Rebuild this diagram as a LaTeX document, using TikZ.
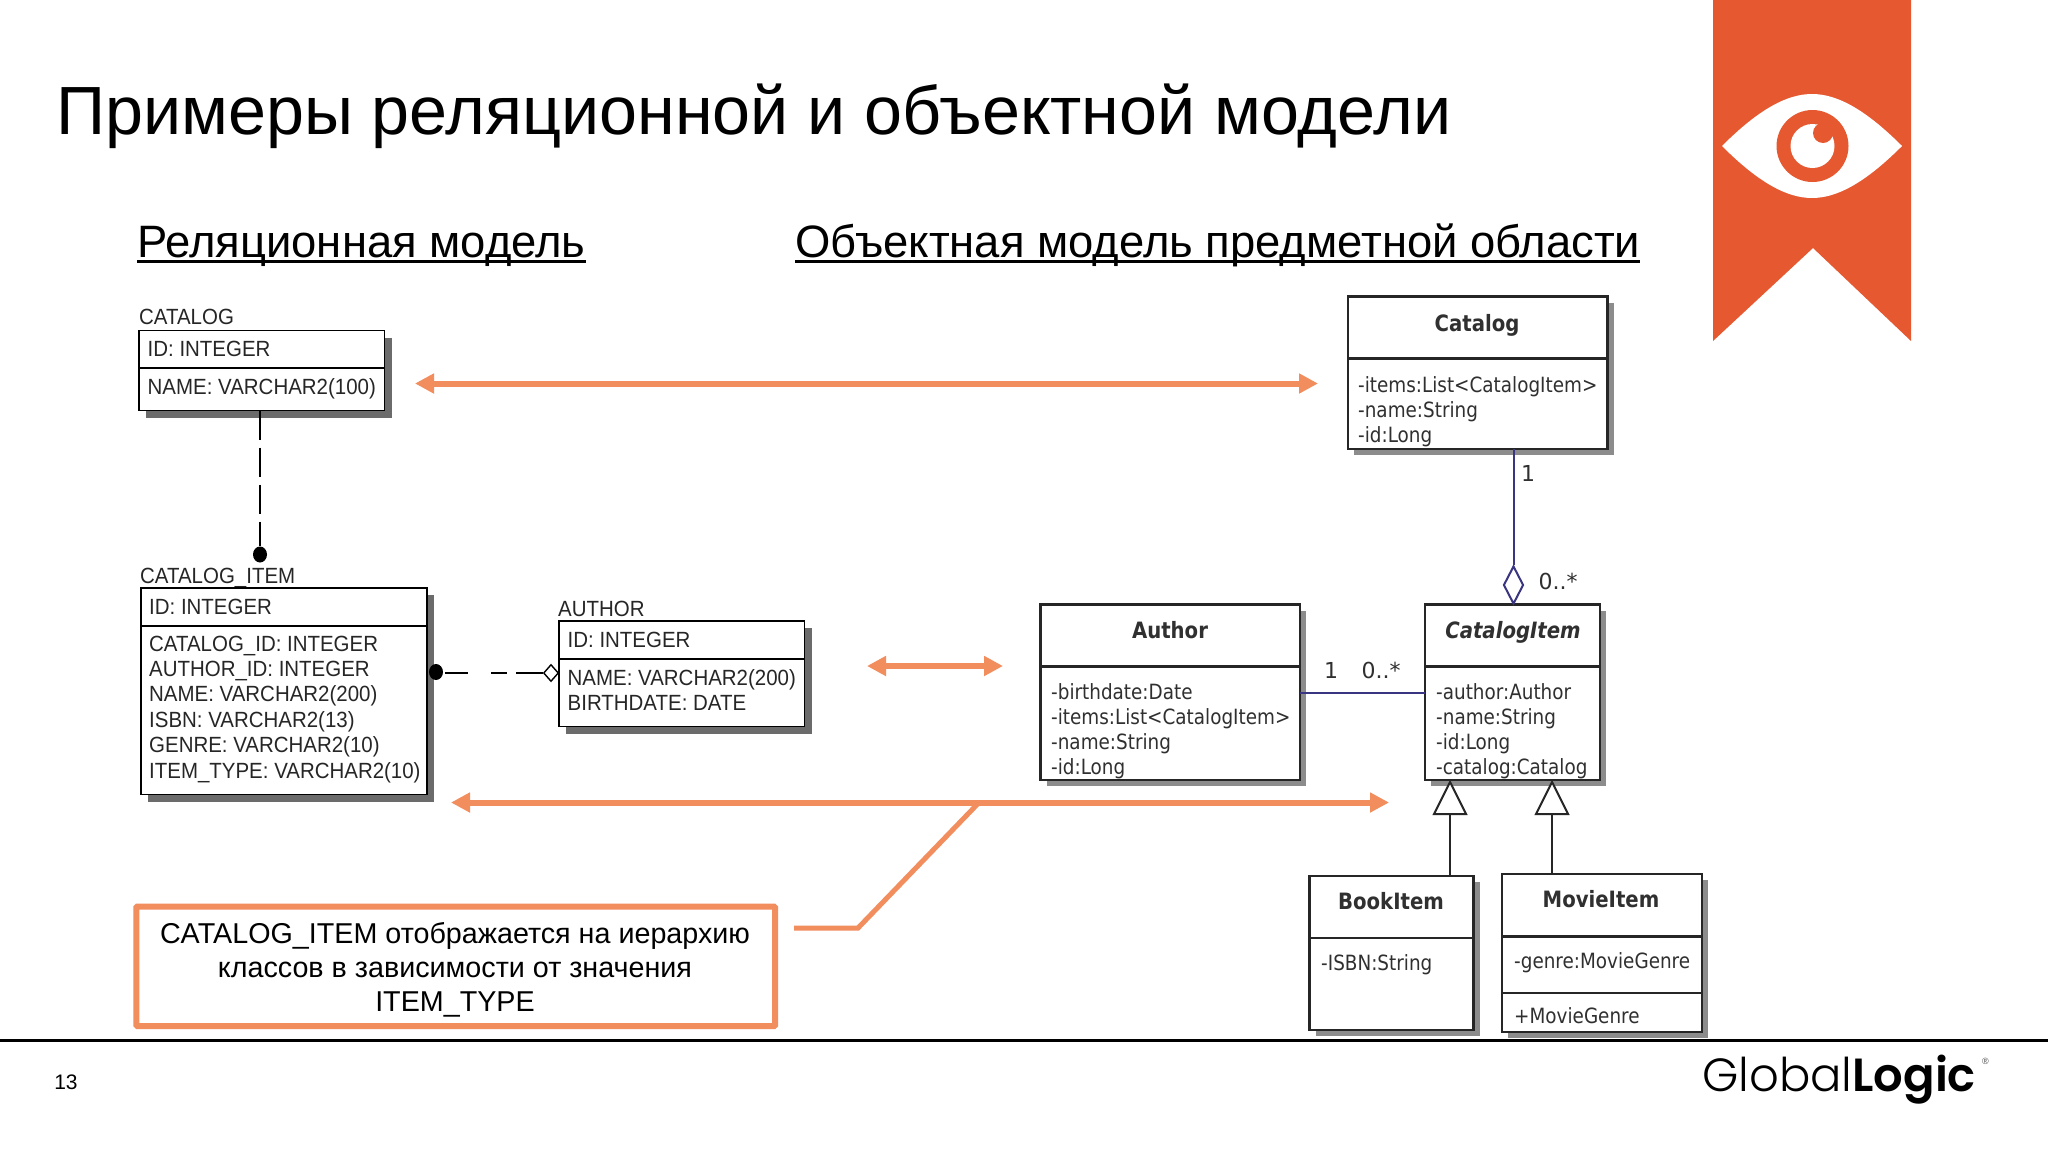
\documentclass[tikz,border=0pt]{standalone}
\usepackage{fontspec}
\setmainfont{Liberation Sans}
\newfontfamily\erfont[FakeStretch=0.93]{Liberation Sans}
\newfontfamily\umlfont[FakeStretch=0.875]{DejaVu Sans}
\newfontfamily\umlplain{DejaVu Sans}
\newfontfamily\logofont[UprightFont=* Light,BoldFont=* SemiBold]{Poppins}
\usetikzlibrary{arrows.meta,shadows,shapes.geometric,calc}
\definecolor{accent}{HTML}{F28D5E}
\definecolor{ribbon}{HTML}{E65830}
\definecolor{umlline}{HTML}{3A3580}
\definecolor{umltext}{HTML}{303030}
\tikzset{
  erbox/.style={draw=black,line width=1.8pt,fill=white,anchor=north west,inner sep=0pt,outer sep=0pt,
     drop shadow={shadow xshift=7pt,shadow yshift=-7pt,opacity=1,fill=black!58}},
  umlbox/.style={draw=black!85,line width=2.4pt,fill=white,anchor=north west,inner sep=0pt,outer sep=0pt,
     drop shadow={shadow xshift=6pt,shadow yshift=-6pt,opacity=1,fill=black!45}},
  ertext/.style={font=\erfont\fontsize{22}{25}\selectfont,text=black!85,anchor=base west,inner sep=0pt},
  umlattr/.style={font=\umlfont\fontsize{21}{25}\selectfont,text=umltext,anchor=base west,inner sep=0pt},
  umltitle/.style={font=\umlfont\bfseries\fontsize{22.5}{25}\selectfont,text=umltext,anchor=base,inner sep=0pt},
  umllabel/.style={font=\umlplain\fontsize{22}{25}\selectfont,text=umltext,anchor=base,inner sep=0pt},
  erdiv/.style={draw=black,line width=1.8pt},
  umldiv/.style={draw=black!85,line width=2.4pt},
  erlink/.style={draw=black,line width=1.4pt},
  erdot/.style={ellipse,fill=black,inner sep=0pt,minimum width=14pt,minimum height=16pt},
  assoc/.style={draw=umlline,line width=2pt},
  inherit/.style={draw=black!85,line width=2pt},
  bigarrow/.style={draw=accent,line width=6pt,{Triangle[length=19pt,width=19pt,fill=accent]}-{Triangle[length=19pt,width=19pt,fill=accent]}},
  leader/.style={draw=accent,line width=5pt},
  heading/.style={font=\fontsize{45.4}{50}\selectfont,anchor=base west,inner sep=0pt},
  notetext/.style={anchor=base,inner sep=0pt,font=\fontsize{28.7}{34}\selectfont},
  gentri/.style={isosceles triangle,isosceles triangle apex angle=54,isosceles triangle stretches,shape border rotate=90,draw=black!85,fill=white,line width=2pt,inner sep=0pt,outer sep=0pt,minimum width=32pt,minimum height=32pt,anchor=apex},
}
\begin{document}
\begin{tikzpicture}[x=1pt,y=-1pt]
\useasboundingbox (0,0) rectangle (2048,1152);
\fill[white] (0,0) rectangle (2048,1152);

% ribbon
\fill[ribbon] (1713,0) -- (1911,0) -- (1911,341) -- (1813,248) -- (1713,341) -- cycle;
\fill[white] (1722,146) .. controls (1760,108) and (1788,94) .. (1812,94) .. controls (1836,94) and (1864,108) .. (1902,146) .. controls (1864,184) and (1836,198) .. (1812,198) .. controls (1788,198) and (1760,184) .. (1722,146) -- cycle;
\fill[ribbon] (1812.5,146) circle (36);
\fill[white] (1812.5,146) circle (22);
\fill[ribbon] (1823,133) circle (10);

% headings
\node[anchor=base west,inner sep=0pt,font=\fontsize{68.2}{72}\selectfont] (title) at (56,134.5) {Примеры реляционной и объектной модели};
\node[heading] (hrel) at (137,257) {Реляционная модель};
\node[heading] (hobj) at (795,257) {Объектная модель предметной области};
\draw[line width=3pt] ($(hrel.base west)+(0,4)$) -- ($(hrel.base east)+(0,4)$);
\draw[line width=3pt] ($(hobj.base west)+(0,4)$) -- ($(hobj.base east)+(0,4)$);

% ER boxes
\node[ertext] (lcat) at (139,324) {CATALOG};
\node[erbox,minimum width=245.5pt,minimum height=80pt] (cat) at (139,330.5) {};
\draw[erdiv] (cat.west |- 0,368) -- (cat.east |- 0,368);
\node[ertext] (cat1) at (147.5,356) {ID: INTEGER};
\node[ertext] (cat2) at (147.5,394) {NAME: VARCHAR2(100)};

\node[ertext] (litem) at (140,583) {CATALOG\_ITEM};
\node[erbox,minimum width=286pt,minimum height=206.5pt] (item) at (140.7,588) {};
\draw[erdiv] (item.west |- 0,626) -- (item.east |- 0,626);
\node[ertext] (item0) at (149,614) {ID: INTEGER};
\node[ertext] (item1) at (149,651) {CATALOG\_ID: INTEGER};
\node[ertext] (item2) at (149,676) {AUTHOR\_ID: INTEGER};
\node[ertext] (item3) at (149,701) {NAME: VARCHAR2(200)};
\node[ertext] (item4) at (149,727) {ISBN: VARCHAR2(13)};
\node[ertext] (item5) at (149,752) {GENRE: VARCHAR2(10)};
\node[ertext] (item6) at (149,778) {ITEM\_TYPE: VARCHAR2(10)};

\node[ertext] (lauth) at (558,616) {AUTHOR};
\node[erbox,minimum width=245.5pt,minimum height=105.5pt] (auth) at (559,621) {};
\draw[erdiv] (auth.west |- 0,659) -- (auth.east |- 0,659);
\node[ertext] (auth0) at (567.5,647) {ID: INTEGER};
\node[ertext] (auth1) at (567.5,685) {NAME: VARCHAR2(200)};
\node[ertext] (auth2) at (567.5,710) {BIRTHDATE: DATE};

% ER connectors
\node[erdot] (dot1) at (260,554.5) {};
\node[erdot] (dot2) at (436,672) {};
\node[diamond,draw=black,fill=white,line width=1.4pt,inner sep=0pt,minimum width=15pt,minimum height=17pt] (dia1) at (551,673) {};
\draw[erlink,dash pattern=on 29pt off 8pt] (cat.south -| dot1) -- (dot1);
\draw[erlink,dash pattern=on 23pt off 23pt on 16pt off 9pt on 40pt] (dot2.east |- dia1) ++(2,0) -- (dia1.west);

% orange arrows
\coordinate (a1l) at (415,383.5);
\coordinate (a1r) at (1318,383.5);
\coordinate (a2l) at (867,666);
\coordinate (a2r) at (1003,666);
\coordinate (a3l) at (451,802.5);
\coordinate (a3r) at (1389,802.5);
\coordinate (k1) at (794,928);
\coordinate (k2) at (858,928);
\coordinate (k3) at (979,802.5);
\draw[bigarrow] (a1l) -- (a1r);
\draw[bigarrow] (a2l) -- (a2r);
\draw[bigarrow] (a3l) -- (a3r);
\draw[leader] (k1) -- (k2) -- (k3);

% note
\node[draw=accent,line width=6pt,rounded corners=1pt,fill=white,minimum width=638.6pt,minimum height=119.5pt,anchor=north west,inner sep=0pt,outer sep=0pt] (note) at (136.4,906.5) {};
\node[notetext] (n1) at (455,943) {CATALOG\_ITEM отображается на иерархию};
\node[notetext] (n2) at (455,977) {классов в зависимости от значения};
\node[notetext] (n3) at (455,1011) {ITEM\_TYPE};

% UML boxes
\node[umlbox,minimum width=259.5pt,minimum height=152.5pt] (catalog) at (1348,296.5) {};
\draw[umldiv] (catalog.west |- 0,358.5) -- (catalog.east |- 0,358.5);
\node[umltitle] (tcatalog) at (1477,331) {Catalog};
\node[umlattr] (c1) at (1358,392) {-items:List<CatalogItem>};
\node[umlattr] (c2) at (1358,417) {-name:String};
\node[umlattr] (c3) at (1358,442) {-id:Long};

\node[umlbox,minimum width=259.5pt,minimum height=175.5pt] (author) at (1040.5,604.5) {};
\draw[umldiv] (author.west |- 0,666.5) -- (author.east |- 0,666.5);
\node[umltitle] (tauthor) at (1170,638) {Author};
\node[umlattr] (u1) at (1051,699) {-birthdate:Date};
\node[umlattr] (u2) at (1051,724) {-items:List<CatalogItem>};
\node[umlattr] (u3) at (1051,749) {-name:String};
\node[umlattr] (u4) at (1051,774) {-id:Long};

\node[umlbox,minimum width=175pt,minimum height=175.5pt] (citem) at (1425,604.5) {};
\draw[umldiv] (citem.west |- 0,666.5) -- (citem.east |- 0,666.5);
\node[umltitle,font=\umlfont\bfseries\itshape\fontsize{22.5}{25}\selectfont] (tcitem) at (1513,638) {CatalogItem};
\node[umlattr] (i1) at (1436,699) {-author:Author};
\node[umlattr] (i2) at (1436,724) {-name:String};
\node[umlattr] (i3) at (1436,749) {-id:Long};
\node[umlattr] (i4) at (1436,774) {-catalog:Catalog};

\node[umlbox,minimum width=164pt,minimum height=154pt] (book) at (1309.5,876) {};
\draw[umldiv] (book.west |- 0,938) -- (book.east |- 0,938);
\node[umltitle] (tbook) at (1391,909) {BookItem};
\node[umlattr] (b1) at (1321,970) {-ISBN:String};

\node[umlbox,minimum width=200pt,minimum height=158pt] (movie) at (1502,874) {};
\draw[umldiv] (movie.west |- 0,936.5) -- (movie.east |- 0,936.5);
\draw[umldiv] (movie.west |- 0,993) -- (movie.east |- 0,993);
\node[umltitle] (tmovie) at (1601,907) {MovieItem};
\node[umlattr] (m1) at (1514,968) {-genre:MovieGenre};
\node[umlattr] (m2) at (1514,1023) {+MovieGenre};

% UML connectors
\node[diamond,draw=umlline,fill=white,line width=2pt,inner sep=0pt,minimum width=20pt,minimum height=38pt] (agg) at (1513.5,585) {};
\draw[assoc] (catalog.south -| agg) -- (agg.north);
\draw[assoc] (author.east |- 0,692.5) -- (citem.west |- 0,692.5);
\node[umllabel] (l1) at (1528,481) {1};
\node[umllabel] (l2) at (1558,589) {0..*};
\node[umllabel] (l3) at (1331,678) {1};
\node[umllabel] (l4) at (1381,678) {0..*};

\coordinate (tb1) at (1450,782);
\coordinate (tb2) at (1552,782);
\node[gentri] (tri1) at (tb1) {};
\node[gentri] (tri2) at (tb2) {};
\draw[inherit] (tri1.south) -- (book.north -| tri1.south);
\draw[inherit] (tri2.south) -- (movie.north -| tri2.south);

% footer
\coordinate (fl) at (0,1040);
\coordinate (fr) at (2048,1040);
\draw[black,line width=3pt] (fl) -- (fr);
\node[anchor=base,inner sep=0pt,font=\fontsize{21}{25}\selectfont] (page) at (66,1089) {13};
\node[anchor=base west,inner sep=0pt,font=\logofont\fontsize{46.5}{50}\selectfont] (logo) at (1702,1091) {Global\textbf{Logic}};
\node[anchor=base west,inner sep=0pt,font=\fontsize{9}{10}\selectfont,text=black!70] (reg) at (1982,1064) {®};
\end{tikzpicture}
\end{document}
